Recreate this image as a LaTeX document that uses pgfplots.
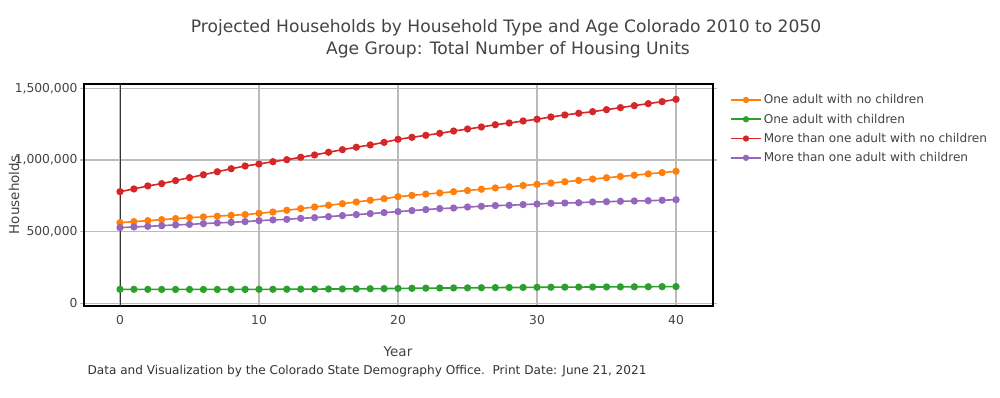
\documentclass[border=0pt]{standalone}
\usepackage{pgfplots}
\pgfplotsset{compat=1.18}
\usepackage{fontspec}
\setmainfont{DejaVu Sans}
\definecolor{cOr}{HTML}{FF7F0E}
\definecolor{cGr}{HTML}{2CA02C}
\definecolor{cRd}{HTML}{D62728}
\definecolor{cPu}{HTML}{9467BD}
\definecolor{txt}{HTML}{444444}
\definecolor{grd}{HTML}{BBBBBB}
\begin{document}
\begin{tikzpicture}[x=1pt,y=1pt]
\path[use as bounding box,fill=white] (0,0) rectangle (1000,397);
\begin{axis}[
  at={(84pt,91.5pt)}, anchor=south west,
  scale only axis, width=629pt, height=221.5pt,
  xmin=-2.59, xmax=42.66, ymin=-15000, ymax=1530000,
  xtick={0,10,20,30,40},
  xticklabels={0,10,20,30,40},
  ytick={0,500000,1000000,1500000},
  yticklabels={0,{500,000},{1,000,000},{1,500,000}},
  scaled y ticks=false,
  grid=major,
  major grid style={grd, line width=1.6pt},
  axis line style={black, line width=2pt},
  tick label style={font=\fontsize{12.3}{14}\selectfont, text=txt},
  xtick style={draw=none},
  ytick style={grd, line width=1.3pt},
  tick align=outside, major tick length=4pt,
  yticklabel style={xshift=1pt},
  xticklabel style={yshift=-2pt},
  legend style={at={(1.027,0.962)}, anchor=north west, draw=none, fill=none,
    font=\fontsize{12.1}{14}\selectfont, text=txt, row sep=4.6pt,
    inner sep=0pt},
  legend cell align=left,
  legend image code/.code={\draw[mark repeat=2,mark phase=2,mark size=2.3pt] plot coordinates {(0pt,0pt)(15pt,0pt)(30pt,0pt)};},
  every axis plot/.append style={line width=1.6pt, mark=*, mark size=2.8pt, mark options={solid}},
  clip=false,
]
\draw[black!80, line width=0.9pt] (axis cs:0,-15000) -- (axis cs:0,1530000);
\addplot[cOr, mark options={fill=cOr}] coordinates {
(0,563000)(1,570000)(2,577000)(3,584000)(4,591000)(5,598000)(6,603000)(7,608000)(8,614000)(9,619000)
(10,628000)(11,637000)(12,649000)(13,661000)(14,672000)(15,684000)(16,695000)(17,707000)(18,719000)(19,730000)
(20,744000)(21,753000)(22,762000)(23,770000)(24,779000)(25,787000)(26,796000)(27,805000)(28,813000)(29,822000)
(30,830000)(31,839000)(32,848000)(33,857000)(34,867000)(35,876000)(36,885000)(37,894000)(38,903000)(39,912000)(40,921000)};
\addlegendentry{One adult with no children}
\addplot[cGr, mark options={fill=cGr}] coordinates {
(0,98000)(1,98000)(2,97500)(3,97000)(4,97000)(5,97000)(6,97000)(7,97000)(8,97000)(9,97500)
(10,98000)(11,98000)(12,98500)(13,99000)(14,99500)(15,100000)(16,100500)(17,101000)(18,102000)(19,103000)
(20,104000)(21,105000)(22,106000)(23,107000)(24,107500)(25,108000)(26,109000)(27,110000)(28,110500)(29,111000)
(30,112000)(31,112500)(32,113000)(33,113500)(34,114000)(35,114500)(36,115000)(37,115500)(38,116000)(39,116500)(40,117000)};
\addlegendentry{One adult with children}
\addplot[cRd, mark options={fill=cRd}] coordinates {
(0,779000)(1,798000)(2,819000)(3,835000)(4,856000)(5,877000)(6,897000)(7,918000)(8,939000)(9,958000)
(10,972000)(11,988000)(12,1002000)(13,1019000)(14,1035000)(15,1054000)(16,1072000)(17,1089000)(18,1105000)(19,1123000)
(20,1144000)(21,1158000)(22,1172000)(23,1186000)(24,1202000)(25,1216000)(26,1230000)(27,1246000)(28,1258000)(29,1272000)
(30,1284000)(31,1300000)(32,1314000)(33,1326000)(34,1337000)(35,1351000)(36,1365000)(37,1379000)(38,1393000)(39,1407000)(40,1423000)};
\addlegendentry{More than one adult with no children}
\addplot[cPu, mark options={fill=cPu}] coordinates {
(0,528000)(1,533000)(2,537000)(3,542000)(4,547000)(5,551000)(6,556000)(7,561000)(8,565000)(9,570000)
(10,577000)(11,582000)(12,586000)(13,593000)(14,598000)(15,605000)(16,612000)(17,619000)(18,626000)(19,633000)
(20,640000)(21,647000)(22,654000)(23,661000)(24,665000)(25,672000)(26,677000)(27,682000)(28,684000)(29,689000)
(30,693000)(31,698000)(32,700000)(33,702000)(34,707000)(35,709000)(36,712000)(37,714000)(38,716000)(39,719000)(40,723000)};
\addlegendentry{More than one adult with children}
\end{axis}
\node[text=txt, font=\fontsize{17.1}{20}\selectfont] at (506,369) {Projected Households by Household Type and Age Colorado 2010 to 2050};
\node[text=txt, font=\fontsize{17.1}{20}\selectfont] at (508,347) {Age Group: Total Number of Housing Units};
\node[text=txt, font=\fontsize{13.5}{15}\selectfont, rotate=90] at (14,202) {Households};
\node[text=txt, font=\fontsize{13.5}{15}\selectfont] at (398,45) {Year};
\node[text=black!80, font=\fontsize{12.1}{14}\selectfont] at (367,26) {Data and Visualization by the Colorado State Demography Office.\ \ Print Date: June 21, 2021};
\end{tikzpicture}
\end{document}
